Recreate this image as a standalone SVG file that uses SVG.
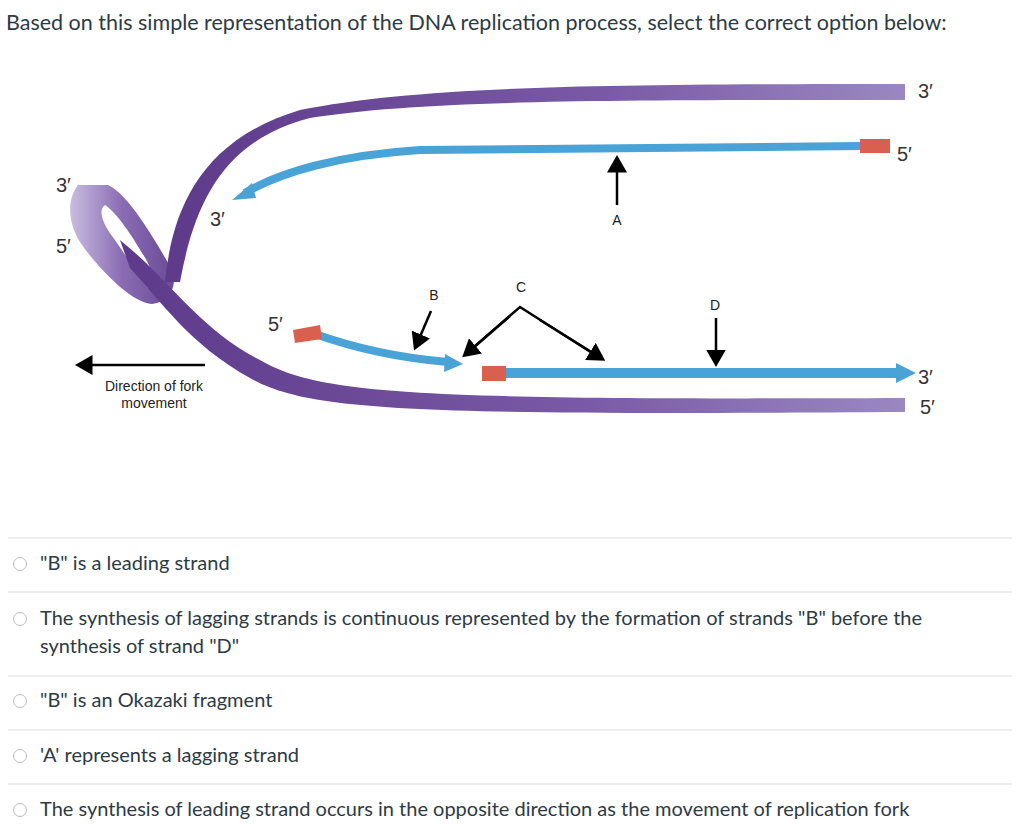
<svg xmlns="http://www.w3.org/2000/svg" width="1024" height="834" viewBox="0 0 1024 834">
<style>
.q{font-family:Lato,"Open Sans",sans-serif;font-size:21.5px;fill:#2d3b45}
.o{font-family:Lato,"Open Sans",sans-serif;font-size:20px;fill:#2d3b45}
.p{font-family:"Liberation Sans",Arial,sans-serif;font-size:20px;fill:#333}
.s{font-family:"Liberation Sans",Arial,sans-serif;font-size:14px;fill:#222}
.sep{stroke:#ddd;stroke-width:1}
.rad{fill:#fff;stroke:#bbb;stroke-width:1}
.blue{fill:none;stroke:#4aa3d6;stroke-linecap:butt}
.red{fill:#d9604f}
.blk{stroke:#000;stroke-width:2.5;fill:none}
</style>
<defs>
<marker id="ah" markerWidth="8" markerHeight="8" refX="5" refY="4" orient="auto" markerUnits="strokeWidth"><path d="M0,0 L7,4 L0,8 z" fill="#000"/></marker>
<linearGradient id="pg" x1="0" y1="0" x2="1" y2="0"><stop offset="0" stop-color="#5e3a8a"/><stop offset="0.6" stop-color="#7a5aa6"/><stop offset="1" stop-color="#9a88c2"/></linearGradient>
<linearGradient id="lg" x1="0" y1="0" x2="1" y2="0"><stop offset="0" stop-color="#c8bde0"/><stop offset="0.5" stop-color="#8a6cb4"/><stop offset="1" stop-color="#6a4a96"/></linearGradient>
</defs>
<rect width="1024" height="834" fill="#fff"/>
<text class="q" x="6" y="30">Based on this simple representation of the DNA replication process, select the correct option below:</text>
<g id="helix">
<path d="M78,185 L108,185 C125,192 150,230 172,270 C178,285 170,302 152,304 C132,303 100,270 82,245 C68,225 66,200 78,185 Z M105,205 C98,210 102,222 112,236 C128,258 138,276 148,288 C154,280 152,268 144,256 C132,236 118,214 105,205 Z" fill="url(#lg)" fill-rule="evenodd"/>
</g>
<g id="topStrand">
<path d="M165,282 C172,210 200,140 300,110 C420,86 600,84 905,84 L905,100 C600,100 420,100 310,118 C225,140 195,200 180,282 Z" fill="url(#pg)"/>
</g>
<g id="bottomStrand">
<path d="M120,240 C170,280 200,330 260,360 C320,395 420,400 905,398 L905,412 C420,415 310,412 250,378 C190,345 160,300 130,268 Z" fill="url(#pg)"/>
</g>
<g id="connectors">
<path class="blue" d="M862,146 L420,150 C340,155 280,172 245,193" stroke-width="8"/>
<path d="M232,200 L252,183 L256,198 Z" fill="#4aa3d6"/>
<rect class="red" x="860" y="139" width="30" height="14"/>
<path class="blue" d="M315,334 C360,350 400,358 448,362" stroke-width="8"/>
<path d="M463,364 L445,354 L444,372 Z" fill="#4aa3d6"/>
<path d="M293,330 L320,325 L322,339 L295,343 Z" class="red"/>
<path class="blue" d="M505,373 L898,373" stroke-width="10"/>
<path d="M916,373 L896,363 L896,383 Z" fill="#4aa3d6"/>
<rect class="red" x="482" y="366" width="24" height="15"/>
<line class="blk" x1="617" y1="205" x2="617" y2="160" marker-end="url(#ah)"/>
<line class="blk" x1="431" y1="311" x2="416" y2="346" marker-end="url(#ah)"/>
<path class="blk" d="M466,354 L520,307 L600,358"/>
<line class="blk" x1="510" y1="316" x2="466" y2="354" marker-end="url(#ah)"/>
<line class="blk" x1="540" y1="320" x2="601" y2="358" marker-end="url(#ah)"/>
<line class="blk" x1="716" y1="318" x2="716" y2="362" marker-end="url(#ah)"/>
<line class="blk" x1="205" y1="365" x2="80" y2="365" marker-end="url(#ah)"/>
</g>
<g id="labels">
<text class="p" x="918" y="98">3′</text>
<text class="p" x="897" y="161">5′</text>
<text class="p" x="56" y="192">3′</text>
<text class="p" x="56" y="253">5′</text>
<text class="p" x="210" y="226">3′</text>
<text class="p" x="268" y="331">5′</text>
<text class="p" x="918" y="384">3′</text>
<text class="p" x="920" y="414">5′</text>
<text class="s" x="617" y="225" text-anchor="middle">A</text>
<text class="s" x="434" y="300" text-anchor="middle">B</text>
<text class="s" x="521" y="292" text-anchor="middle">C</text>
<text class="s" x="715" y="310" text-anchor="middle">D</text>
<text class="s" x="154" y="391" text-anchor="middle" font-size="13">Direction of fork</text>
<text class="s" x="154" y="408" text-anchor="middle" font-size="13">movement</text>
</g>
<g id="options">
<line class="sep" x1="8" y1="538" x2="1012" y2="538"/>
<circle class="rad" cx="20" cy="564" r="6.5"/>
<text class="o" x="40" y="570">"B" is a leading strand</text>
<line class="sep" x1="8" y1="592" x2="1012" y2="592"/>
<circle class="rad" cx="20" cy="619" r="6.5"/>
<text class="o" x="40" y="625">The synthesis of lagging strands is continuous represented by the formation of strands "B" before the</text>
<text class="o" x="40" y="653">synthesis of strand "D"</text>
<line class="sep" x1="8" y1="676" x2="1012" y2="676"/>
<circle class="rad" cx="20" cy="701" r="6.5"/>
<text class="o" x="40" y="707">"B" is an Okazaki fragment</text>
<line class="sep" x1="8" y1="730" x2="1012" y2="730"/>
<circle class="rad" cx="20" cy="756" r="6.5"/>
<text class="o" x="40" y="762">'A' represents a lagging strand</text>
<line class="sep" x1="8" y1="784" x2="1012" y2="784"/>
<circle class="rad" cx="20" cy="810" r="6.5"/>
<text class="o" x="40" y="816">The synthesis of leading strand occurs in the opposite direction as the movement of replication fork</text>
</g>
</svg>
